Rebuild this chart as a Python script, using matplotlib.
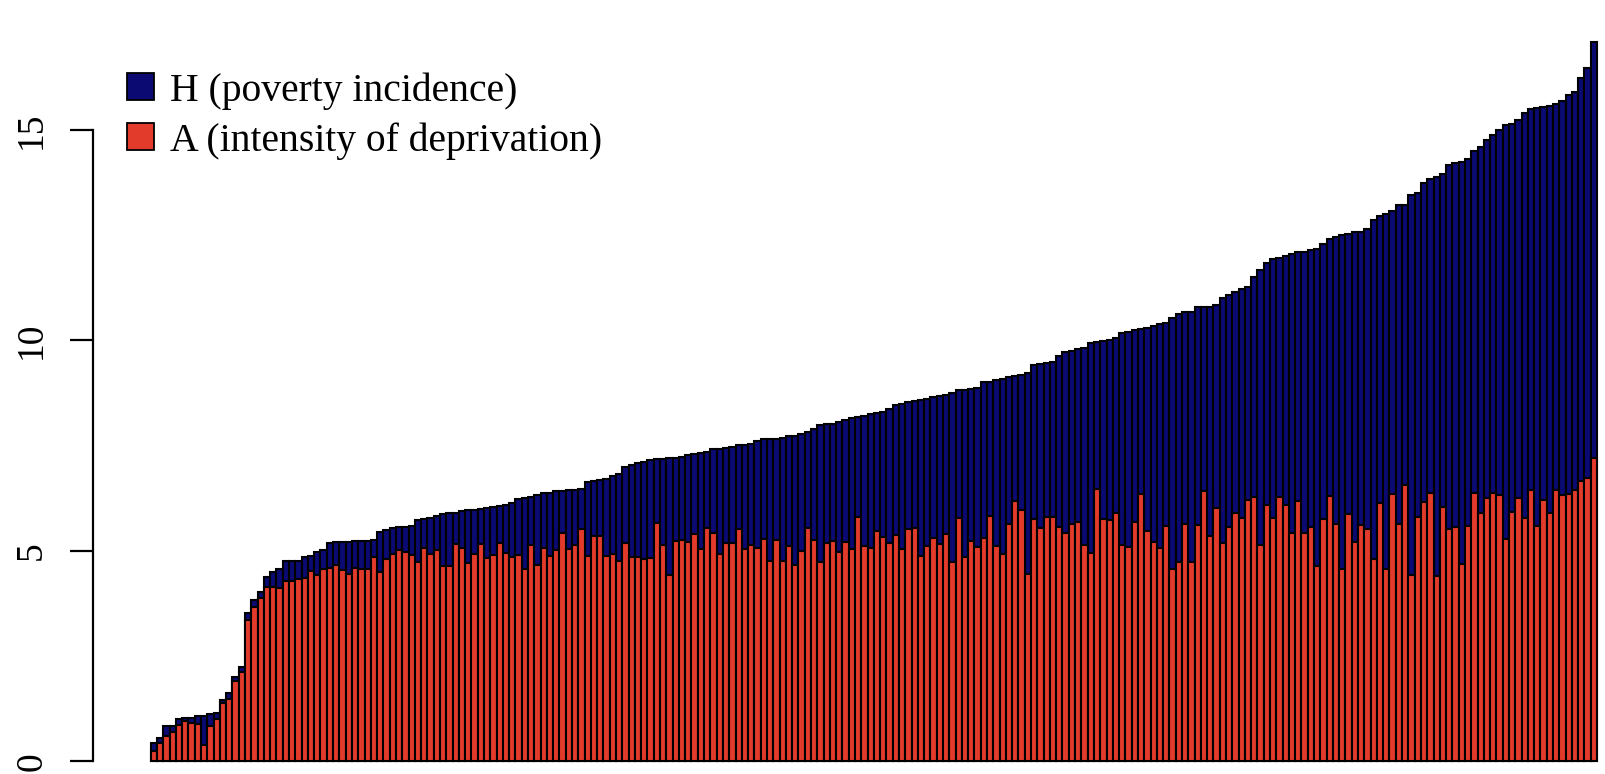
import matplotlib
matplotlib.use("Agg")
import matplotlib.pyplot as plt
from matplotlib.patches import Patch

# bar heights (blue = H bar, red = A bar), sorted by H
h_bar = [
    0.44, 0.56, 0.83, 0.85, 1.01, 1.03, 1.03, 1.08, 1.08, 1.13,
    1.16, 1.47, 1.63, 2.00, 2.25, 3.53, 3.83, 4.02, 4.37, 4.51,
    4.57, 4.77, 4.77, 4.77, 4.85, 4.89, 4.97, 5.02, 5.18, 5.20,
    5.20, 5.21, 5.23, 5.23, 5.24, 5.26, 5.46, 5.49,
    5.55, 5.56, 5.57, 5.60, 5.73, 5.76, 5.79, 5.83, 5.87, 5.89,
    5.91, 5.94, 5.97, 5.98, 6.00, 6.03, 6.05, 6.07, 6.08, 6.14,
    6.24, 6.25, 6.28, 6.32, 6.37, 6.37, 6.42, 6.43, 6.45, 6.45,
    6.48, 6.64, 6.67, 6.68, 6.71, 6.77, 6.82,
    7.00, 7.04, 7.08, 7.10, 7.16, 7.19, 7.19, 7.20, 7.21, 7.24,
    7.28, 7.30, 7.32, 7.36, 7.43, 7.43, 7.44, 7.46, 7.52, 7.52,
    7.55, 7.62, 7.65, 7.65, 7.66, 7.68, 7.73, 7.74, 7.77, 7.83,
    7.89, 8.00, 8.01, 8.01, 8.07, 8.11, 8.15, 8.19,
    8.20, 8.24, 8.27, 8.31, 8.38, 8.46, 8.50, 8.54, 8.57, 8.58,
    8.61, 8.65, 8.68, 8.71, 8.74, 8.82, 8.82, 8.85, 8.88, 9.01,
    9.01, 9.06, 9.08, 9.12, 9.15, 9.18, 9.23, 9.41, 9.44, 9.47,
    9.49, 9.64, 9.72, 9.75, 9.80, 9.83, 9.93, 9.97, 9.98,
    10.00, 10.05, 10.17, 10.19, 10.24, 10.27, 10.30, 10.35, 10.40, 10.41,
    10.54, 10.63, 10.68, 10.68, 10.79, 10.79, 10.79, 10.84, 11.01, 11.09,
    11.16, 11.22, 11.27, 11.51, 11.67, 11.85, 11.93, 11.96, 12.00, 12.06,
    12.09, 12.10, 12.14, 12.18, 12.28, 12.41, 12.46, 12.50,
    12.52, 12.57, 12.57, 12.64, 12.86, 12.95, 13.01, 13.07, 13.22, 13.22,
    13.46, 13.50, 13.74, 13.83, 13.88, 13.96, 14.16, 14.21, 14.24, 14.30,
    14.50, 14.60, 14.76, 14.87, 15.00, 15.11, 15.13, 15.23, 15.40, 15.49,
    15.52, 15.54, 15.56, 15.62, 15.68, 15.83, 15.90, 16.24, 16.46, 17.09,
]
a_bar = [
    0.25, 0.44, 0.61, 0.69, 0.87, 0.95, 0.91, 0.90, 0.38, 0.85,
    1.00, 1.38, 1.49, 1.92, 2.13, 3.36, 3.67, 3.89, 4.15, 4.15,
    4.13, 4.29, 4.28, 4.34, 4.36, 4.53, 4.43, 4.57, 4.59, 4.67,
    4.55, 4.44, 4.59, 4.56, 4.56, 4.86, 4.49, 4.81,
    4.92, 5.03, 4.97, 4.90, 4.74, 5.07, 4.92, 5.03, 4.64, 4.65,
    5.17, 5.07, 4.72, 4.92, 5.16, 4.84, 4.90, 5.19, 4.94, 4.86,
    4.91, 4.56, 5.15, 4.67, 5.06, 4.89, 5.02, 5.42, 5.05, 5.13,
    5.53, 4.89, 5.35, 5.35, 4.87, 4.92, 4.76,
    5.19, 4.86, 4.85, 4.81, 4.83, 5.67, 5.13, 4.43, 5.24, 5.27,
    5.21, 5.41, 5.04, 5.54, 5.43, 4.92, 5.19, 5.19, 5.53, 5.05,
    5.13, 5.08, 5.28, 4.77, 5.27, 4.77, 5.12, 4.67, 4.99, 5.54,
    5.27, 4.74, 5.19, 5.23, 4.97, 5.22, 5.04, 5.80,
    5.12, 5.06, 5.48, 5.34, 5.18, 5.38, 5.05, 5.53, 5.54, 4.88,
    5.12, 5.31, 5.16, 5.41, 4.73, 5.77, 4.86, 5.24, 5.10, 5.30,
    5.84, 5.12, 4.92, 5.65, 6.19, 5.97, 4.46, 5.76, 5.54, 5.80,
    5.80, 5.56, 5.42, 5.64, 5.69, 5.15, 4.94, 6.48, 5.75,
    5.73, 5.91, 5.14, 5.10, 5.68, 6.36, 5.47, 5.22, 5.06, 5.58,
    4.58, 4.74, 5.63, 4.74, 5.61, 6.42, 5.36, 6.01, 5.18, 5.57,
    5.89, 5.77, 6.21, 6.29, 5.14, 6.09, 5.77, 6.29, 6.09, 5.42,
    6.19, 5.42, 5.57, 4.65, 5.76, 6.31, 5.65, 4.58,
    5.88, 5.21, 5.61, 5.52, 4.80, 6.13, 4.57, 6.36, 5.63, 6.56,
    4.43, 5.80, 6.16, 6.38, 4.40, 6.04, 5.52, 5.56, 4.69, 5.58,
    6.38, 5.90, 6.25, 6.38, 6.33, 5.29, 5.93, 6.25, 5.78, 6.44,
    5.58, 6.21, 5.90, 6.45, 6.33, 6.36, 6.45, 6.65, 6.73, 7.20,
]

legend_labels = ["H (poverty incidence)", "A (intensity of deprivation)"]
bar_colors = ["#0a0a72", "#e23a2b"]
y_ticks = [0, 5, 10, 15]

plt.rcParams["font.family"] = ["Liberation Serif", "DejaVu Serif"]

W, H = 1606, 774
fig = plt.figure(figsize=(W / 100, H / 100), dpi=100)
ax = fig.add_axes([93 / W, 0, 1 - 93 / W, 1])

x = range(len(h_bar))
ax.bar(x, h_bar, width=1, color=bar_colors[0], edgecolor="black", linewidth=1.5)
ax.bar(x, a_bar, width=1, color=bar_colors[1], edgecolor="black", linewidth=1.5)

pitch = (1597 - 150.7) / len(h_bar)
ax.set_xlim(-0.5 - (150.7 - 93) / pitch, -0.5 + (W - 150.7) / pitch)
ax.set_ylim(-(H - 761.4) / 42.1, 761.4 / 42.1)

for side in ["top", "right", "bottom"]:
    ax.spines[side].set_visible(False)
ax.spines["left"].set_bounds(0, 15)
ax.spines["left"].set_linewidth(1.6)
ax.set_xticks([])
ax.set_yticks(y_ticks)
ax.tick_params(axis="y", labelrotation=90, labelsize=27, length=16.5, width=1.6, pad=15)
for lbl in ax.get_yticklabels():
    lbl.set_verticalalignment("center")

handles = [Patch(facecolor=c, edgecolor="black", linewidth=1.3) for c in bar_colors]
fig.legend(handles, legend_labels, loc="upper left", bbox_to_anchor=(127 / W, 1 - 72 / H),
           frameon=False, fontsize=28.5, handlelength=0.68, handleheight=0.68,
           handletextpad=0.4, labelspacing=0.32, borderpad=0, borderaxespad=0)

fig.savefig("out.png", dpi=100)
